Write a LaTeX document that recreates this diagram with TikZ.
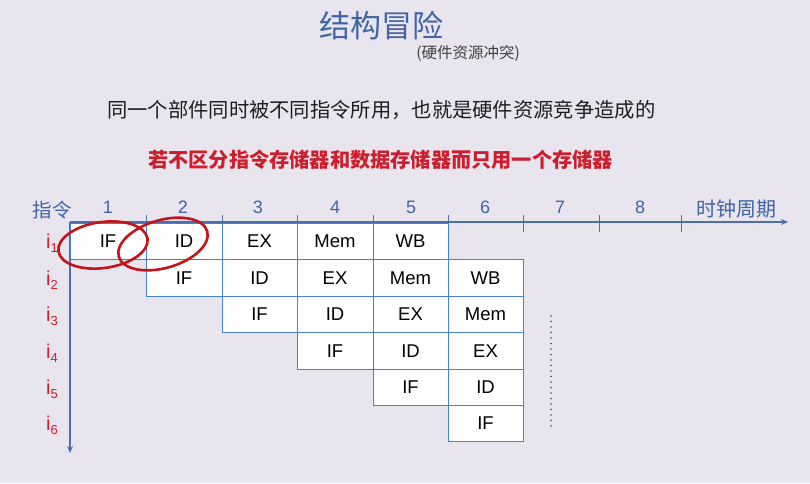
\documentclass[tikz,border=0pt]{standalone}
\usepackage{fontspec}
\setmainfont{Liberation Sans}
\newfontfamily\cjk{Noto Sans CJK SC}
\usetikzlibrary{arrows.meta}
\definecolor{bg}{RGB}{233,229,238}
\definecolor{axisblue}{RGB}{75,110,175}
\definecolor{txtblue}{RGB}{65,100,165}
\definecolor{boxblue}{RGB}{70,130,205}
\definecolor{hazred}{RGB}{205,30,45}
\definecolor{penred}{RGB}{195,20,25}
\definecolor{ink}{RGB}{30,30,30}
\begin{document}
\begin{tikzpicture}[x=1pt,y=-1pt,
  axisline/.style={draw=axisblue, line width=1.1pt},
  tick/.style={draw=axisblue, line width=1pt},
  colnum/.style={text=txtblue, font=\fontsize{18}{18}\selectfont, inner sep=0pt},
  stage/.style={draw=boxblue, fill=white, line width=0.9pt, inner sep=0pt, outer sep=0pt, text=black, font=\fontsize{18.5}{18.5}\selectfont},
  ilabel/.style={text=hazred, inner sep=0pt},
  pen/.style={draw=penred, line width=2.6pt}
]
\fill[bg] (0,0) rectangle (810,483);
\useasboundingbox (0,0) rectangle (810,483);

% titles
\node[text=txtblue, font=\cjk\fontsize{31}{31}\selectfont] (title) at (381,26) {结构冒险};
\node[text=ink!85, font=\cjk\fontsize{15.5}{16}\selectfont] (sub) at (468,53) {(硬件资源冲突)};
\node[anchor=west, text=ink, font=\cjk\fontsize{20.3}{20.3}\selectfont, inner sep=0pt] (line1) at (107,110) {同一个部件同时被不同指令所用，也就是硬件资源竞争造成的};
\node[anchor=west, text=hazred, font=\cjk\bfseries\fontsize{20.2}{20.2}\selectfont, inner sep=0pt] (line2) at (148,160) {若不区分指令存储器和数据存储器而只用一个存储器};

% axes
\coordinate (O) at (70,222);
\coordinate (xe) at (788,222);
\coordinate (ye) at (70,453);
\draw[axisline, -{Stealth[length=7pt,width=6pt]}] (O) -- (xe);
\draw[axisline, -{Stealth[length=7pt,width=6pt]}] (O) -- (ye);
\node[text=txtblue, font=\cjk\fontsize{19.5}{19.5}\selectfont] (zl) at (52,210) {指令};
\node[text=txtblue, font=\cjk\fontsize{20}{20}\selectfont] (tl) at (736,209) {时钟周期};

\foreach \t in {146,222,297,373,448,523,599,681}{
  \coordinate (ta\t) at (\t,215);
  \coordinate (tb\t) at (\t,232);
  \draw[tick] (ta\t) -- (tb\t);
}
\foreach \n/\x in {1/108,2/183,3/258,4/335,5/411,6/485,7/560,8/640}{
  \node[colnum] (n\n) at (\x,207) {\n};
}

% pipeline boxes
\def\xs{{70,146,222,297,373,448,523}}
\def\ys{{223,259.5,296,332.5,369,405,441}}
\foreach \r in {1,...,6}{
  \foreach \s [count=\kk from 0] in {IF,ID,EX,Mem,WB}{
    \pgfmathtruncatemacro\c{\r+\kk}
    \ifnum\c<7
      \pgfmathsetmacro\xa{\xs[\c-1]}
      \pgfmathsetmacro\xb{\xs[\c]}
      \pgfmathsetmacro\ya{\ys[\r-1]}
      \pgfmathsetmacro\yb{\ys[\r]}
      \pgfmathsetmacro\w{\xb-\xa}
      \pgfmathsetmacro\h{\yb-\ya}
      \node[stage, minimum width=\w pt, minimum height=\h pt] (b-\r-\c) at ({(\xa+\xb)/2},{(\ya+\yb)/2}) {\s};
    \fi
  }
}
\draw[boxblue, line width=0.9pt] (70,223) -- (70,259.5);

% instruction labels
\foreach \r/\y in {1/243,2/280,3/316,4/353,5/389,6/425}{
  \node[ilabel] (i\r) at (52,\y) {\fontsize{20}{20}\selectfont i\raisebox{-4pt}{\fontsize{13}{13}\selectfont\r}};
}

% dots
\coordinate (d1) at (551,316);
\coordinate (d2) at (551,430);
\draw[black!70, line width=1.6pt, line cap=round, dash pattern=on 0pt off 5.5pt] (d1) -- (d2);

% hand-drawn circles
\draw[pen] (103,245) ellipse [x radius=45, y radius=23, rotate=8];
\draw[pen] (163,244) ellipse [x radius=46, y radius=24, rotate=16];
\end{tikzpicture}
\end{document}
